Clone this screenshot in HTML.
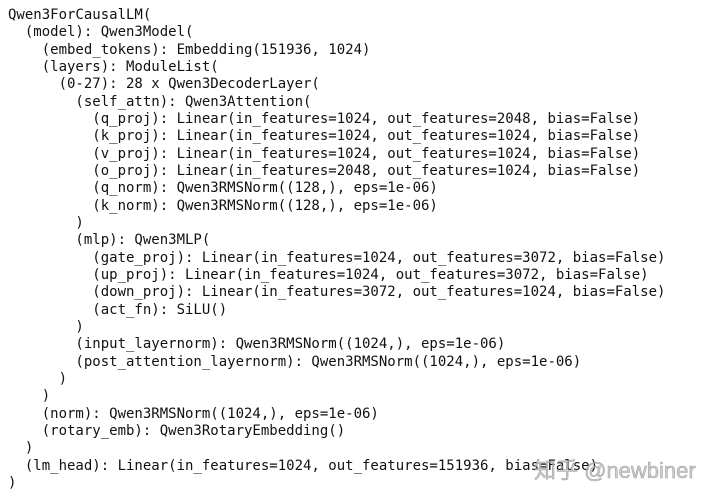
<!DOCTYPE html>
<html><head><meta charset="utf-8"><style>
html,body{margin:0;padding:0;background:#fff;width:712px;height:496px;overflow:hidden}
pre{position:absolute;left:8px;top:7px;margin:0;font-family:"DejaVu Sans Mono","Liberation Mono",monospace;font-size:14px;line-height:17.33px;color:#111}
.wm{position:absolute;left:534px;top:453px;font-family:"Liberation Sans","Noto Sans CJK SC",sans-serif;font-size:22px;color:rgba(190,190,190,0.75);-webkit-text-stroke:0.6px rgba(120,120,120,0.6)}
</style></head><body>
<pre>Qwen3ForCausalLM(
  (model): Qwen3Model(
    (embed_tokens): Embedding(151936, 1024)
    (layers): ModuleList(
      (0-27): 28 x Qwen3DecoderLayer(
        (self_attn): Qwen3Attention(
          (q_proj): Linear(in_features=1024, out_features=2048, bias=False)
          (k_proj): Linear(in_features=1024, out_features=1024, bias=False)
          (v_proj): Linear(in_features=1024, out_features=1024, bias=False)
          (o_proj): Linear(in_features=2048, out_features=1024, bias=False)
          (q_norm): Qwen3RMSNorm((128,), eps=1e-06)
          (k_norm): Qwen3RMSNorm((128,), eps=1e-06)
        )
        (mlp): Qwen3MLP(
          (gate_proj): Linear(in_features=1024, out_features=3072, bias=False)
          (up_proj): Linear(in_features=1024, out_features=3072, bias=False)
          (down_proj): Linear(in_features=3072, out_features=1024, bias=False)
          (act_fn): SiLU()
        )
        (input_layernorm): Qwen3RMSNorm((1024,), eps=1e-06)
        (post_attention_layernorm): Qwen3RMSNorm((1024,), eps=1e-06)
      )
    )
    (norm): Qwen3RMSNorm((1024,), eps=1e-06)
    (rotary_emb): Qwen3RotaryEmbedding()
  )
  (lm_head): Linear(in_features=1024, out_features=151936, bias=False)
)</pre>
<div class="wm">知乎 @newbiner</div>
</body></html>
